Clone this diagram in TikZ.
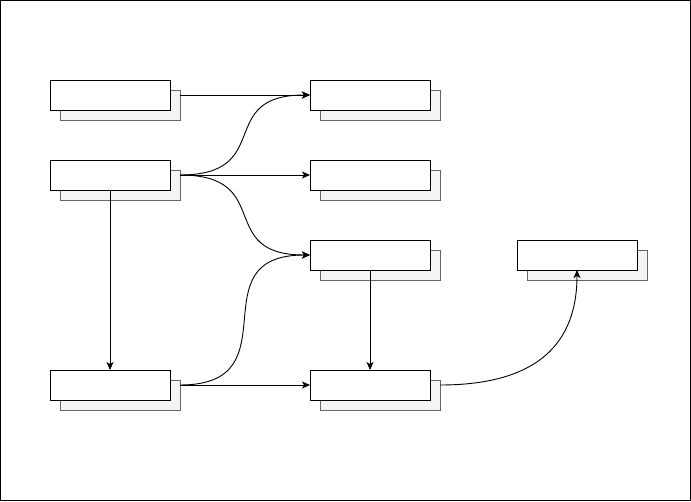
\documentclass[tikz,border=0pt]{standalone}
\usepackage{tikz}
\usetikzlibrary{positioning, arrows.meta, shadows}
\definecolor{shadowfill}{HTML}{F4F4F4}
\definecolor{shadowline}{HTML}{666666}

\begin{document}
\begin{tikzpicture}[x=1pt, y=-1pt, line width=1pt,
    box/.style={draw, fill=white, minimum width=120pt, minimum height=30pt, inner sep=0pt, outer sep=0pt,
        copy shadow={shadow xshift=10pt, shadow yshift=-10pt, fill=shadowfill, draw=shadowline}},
    link/.style={-{Stealth[length=8pt, width=7pt, inset=2pt]}, line width=0.9pt}]
    \useasboundingbox (0,0) rectangle (691,501);
    \draw (0.5,0.5) rectangle (690,500);

    \node[box] (a1) at (110,95) {};
    \node[box, below=50pt of a1] (a2) {};
    \node[box, below=180pt of a2] (a3) {};
    \node[box, right=140pt of a1] (b1) {};
    \node[box, right=140pt of a2] (b2) {};
    \node[box, below=50pt of b2] (b3) {};
    \node[box, right=140pt of a3] (b4) {};
    \node[box, right=87pt of b3] (c1) {};

    \draw[link] ([xshift=10pt]a1.east) -- (b1);
    \draw[link] ([xshift=10pt]a2.east) to[out=0, in=180, looseness=1.6] (b1.west);
    \draw[link] ([xshift=10pt]a2.east) -- (b2);
    \draw[link] ([xshift=10pt]a2.east) to[out=0, in=180, looseness=1.6] (b3.west);
    \draw[link] (a2) -- (a3);
    \draw[link] ([xshift=10pt]a3.east) to[out=0, in=180, looseness=1.6] (b3.west);
    \draw[link] ([xshift=10pt]a3.east) -- (b4);
    \draw[link] (b3) -- (b4);
    \draw[link] ([xshift=10pt]b4.east) to[out=0, in=-90, looseness=1.2] (c1.south);
\end{tikzpicture}
\end{document}
